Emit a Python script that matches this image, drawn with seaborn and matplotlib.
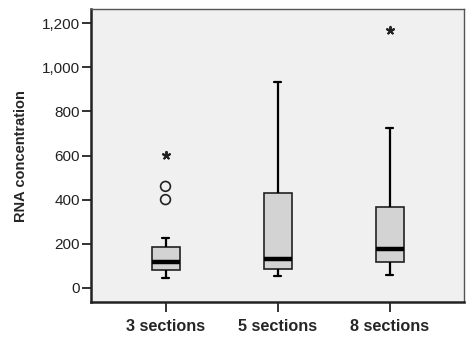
import numpy as np
import pandas as pd
import seaborn as sns
import matplotlib.pyplot as plt
from matplotlib.ticker import FuncFormatter

# raw RNA concentrations per group (estimated from the reference chart)
groups = ['3 sections', '5 sections', '8 sections']
sec3 = [45, 55, 68, 75, 82, 90, 100, 108, 116, 130, 150, 170, 185, 225, 400, 460, 602]
sec5 = [51, 60, 70, 76, 83, 95, 105, 118, 132, 160, 220, 320, 428, 520, 640, 780, 934]
sec8 = [56, 85, 100, 110, 117, 140, 160, 170, 177, 200, 240, 300, 366, 450, 560, 723, 1172]
yticks = [0, 200, 400, 600, 800, 1000, 1200]

df = pd.DataFrame({
    'group': np.repeat(groups, [len(sec3), len(sec5), len(sec8)]),
    'RNA concentration': sec3 + sec5 + sec8,
})

sns.set_style('white')
plt.rcParams['font.family'] = ['Liberation Sans', 'DejaVu Sans']

fig, ax = plt.subplots(figsize=(4.74, 3.57), dpi=100)
fig.subplots_adjust(left=0.192, right=0.979, top=0.974, bottom=0.154)
ax.set_facecolor('#f0f0f0')

sns.boxplot(data=df, x='group', y='RNA concentration', order=groups,
            color='#d3d3d3', saturation=1, width=0.25, linecolor='#222222',
            linewidth=1.2, showfliers=False, ax=ax,
            medianprops=dict(color='black', linewidth=3.2),
            whiskerprops=dict(color='black', linewidth=1.6),
            capprops=dict(color='black', linewidth=1.6),
            capwidths=0.07)

# SPSS-style outliers: circles beyond 1.5 IQR, stars beyond 3 IQR
for i, g in enumerate(groups):
    v = df.loc[df['group'] == g, 'RNA concentration'].to_numpy()
    q1, q3 = np.percentile(v, [25, 75])
    iqr = q3 - q1
    extreme = v[v > q3 + 3 * iqr]
    mild = v[(v > q3 + 1.5 * iqr) & (v <= q3 + 3 * iqr)]
    ax.scatter(np.full(len(mild), i), mild, s=50, marker='o',
               facecolors='none', edgecolors='#222222', linewidths=1.2, zorder=3)
    ax.scatter(np.full(len(extreme), i), extreme, s=28, marker=(5, 2, 0),
               color='#222222', linewidths=1.4, zorder=3)

ax.set_xlim(-0.665, 2.665)
ax.set_ylim(-65, 1264)
ax.set_yticks(yticks)
ax.yaxis.set_major_formatter(FuncFormatter(lambda v, p: f'{int(v):,}'))
ax.set_xlabel('')
ax.set_ylabel('RNA concentration', fontsize=10.5, fontweight='bold')
ax.yaxis.set_label_coords(-0.168, 0.5)
ax.tick_params(axis='y', left=True, length=6.5, width=1.3, pad=1.5,
               labelsize=11, color='#222222', labelcolor='#222222')
ax.tick_params(axis='x', bottom=True, length=7, width=1.3, pad=5,
               labelsize=11.7, color='#222222')
for lab in ax.get_xticklabels():
    lab.set_fontweight('bold')

for s in ['left', 'bottom']:
    ax.spines[s].set_color('#222222')
    ax.spines[s].set_linewidth(1.8)
for s in ['top', 'right']:
    ax.spines[s].set_color('#555555')
    ax.spines[s].set_linewidth(1.0)

fig.savefig('out.png', dpi=100, facecolor='white')
